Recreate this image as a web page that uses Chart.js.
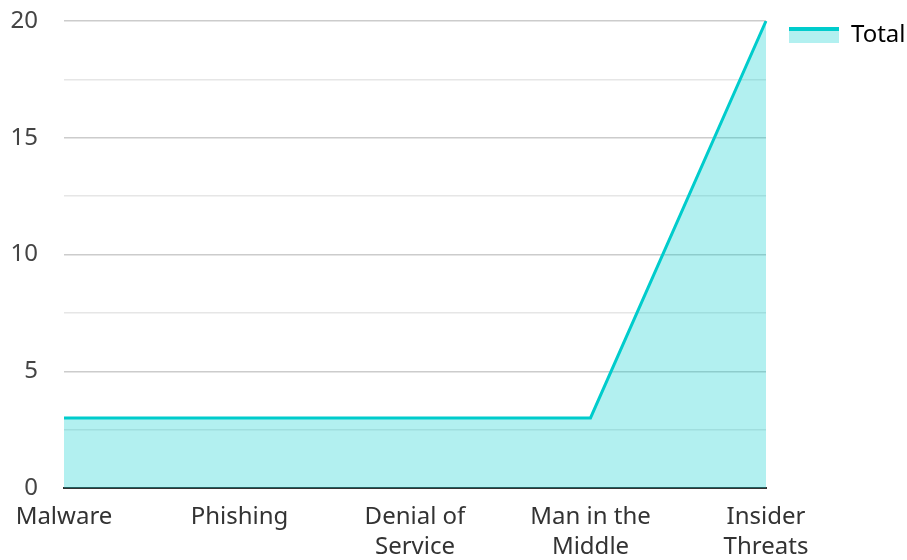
<!DOCTYPE html>
<html>
<head>
<meta charset="utf-8">
<script src="https://cdn.jsdelivr.net/npm/chart.js@4"></script>
<style>
  html, body { margin: 0; padding: 0; background: #fff; overflow: hidden; }
  #wrap { position: relative; width: 907px; height: 576px; }
</style>
</head>
<body>
<div id="wrap"><canvas id="AttackChart"></canvas></div>
<script>
// Attack categories (multi-line labels as in the picture)
const CATEGORIES = [
  "Malware",
  "Phishing",
  ["Denial of", "Service"],
  ["Man in the", "Middle"],
  ["Insider", "Threats"],
];

// Total count per category
const TOTAL_VALUES = [3, 3, 3, 3, 20];

const LINE_COLOR = "rgb(0,204,204)";
const FILL_COLOR = "rgba(0,204,204,0.3)";

// legend swatch: thick line on top, fill below
function makeSwatch() {
  const c = document.createElement("canvas");
  c.width = 50;
  c.height = 16;
  const g = c.getContext("2d");
  g.fillStyle = FILL_COLOR;
  g.fillRect(0, 3, 50, 13);
  g.fillStyle = LINE_COLOR;
  g.fillRect(0, 0, 50, 4);
  return c;
}

// fixed legend width so the plot ends where it does in the picture
const legendWidth = {
  id: "legendWidth",
  beforeLayout(chart) {
    const lg = chart.legend;
    if (lg && !lg._fixed) {
      const fit = lg.fit;
      lg.fit = function () {
        fit.call(this);
        this.width = 141;
      };
      lg._fixed = true;
    }
  },
};

const CHART_ATTACK = document.getElementById("AttackChart");

if (CHART_ATTACK != null) {
  const swatch = makeSwatch();
  let chart_attack = new Chart(CHART_ATTACK, {
    type: "line",
    data: {
      labels: CATEGORIES,
      datasets: [
        {
          label: "Total",
          data: TOTAL_VALUES,
          fill: true,
          tension: 0,
          borderColor: LINE_COLOR,
          backgroundColor: FILL_COLOR,
          borderWidth: 3,
          pointRadius: 0,
        },
      ],
    },
    plugins: [legendWidth],
    options: {
      responsive: true,
      maintainAspectRatio: false,
      animation: false,
      layout: { padding: 0 },
      plugins: {
        tooltip: { enabled: false },
        legend: {
          position: "right",
          align: "start",
          labels: {
            usePointStyle: true,
            pointStyleWidth: 50,
            boxHeight: 16,
            color: "#222",
            font: { family: "Noto Sans", size: 24 },
            padding: 23,
            generateLabels: (chart) => [
              {
                text: "Total",
                pointStyle: swatch,
                fillStyle: FILL_COLOR,
                strokeStyle: LINE_COLOR,
                lineWidth: 0,
                datasetIndex: 0,
                hidden: false,
              },
            ],
          },
        },
      },
      scales: {
        x: {
          offset: false,
          grid: { display: false, drawTicks: false },
          border: { display: true, color: "#333", width: 2 },
          ticks: {
            color: "#333",
            font: { family: "Noto Sans", size: 24, lineHeight: 1.25 },
            padding: 14,
            maxRotation: 0,
            autoSkip: false,
          },
        },
        y: {
          min: 0,
          max: 20,
          afterFit: (scale) => {
            scale.width = 64;
            scale.paddingTop = 21;
          },
          grid: {
            drawTicks: false,
            color: (ctx) => (ctx.tick && ctx.tick.value % 5 === 0 ? "#cccccc" : "#e6e6e6"),
            lineWidth: 1.5,
          },
          border: { display: false },
          ticks: {
            stepSize: 2.5,
            color: "#444",
            font: { family: "Noto Sans", size: 24 },
            padding: 26,
            callback: (v) => (v % 5 === 0 ? v : ""),
          },
        },
      },
    },
  });
}
</script>
</body>
</html>
